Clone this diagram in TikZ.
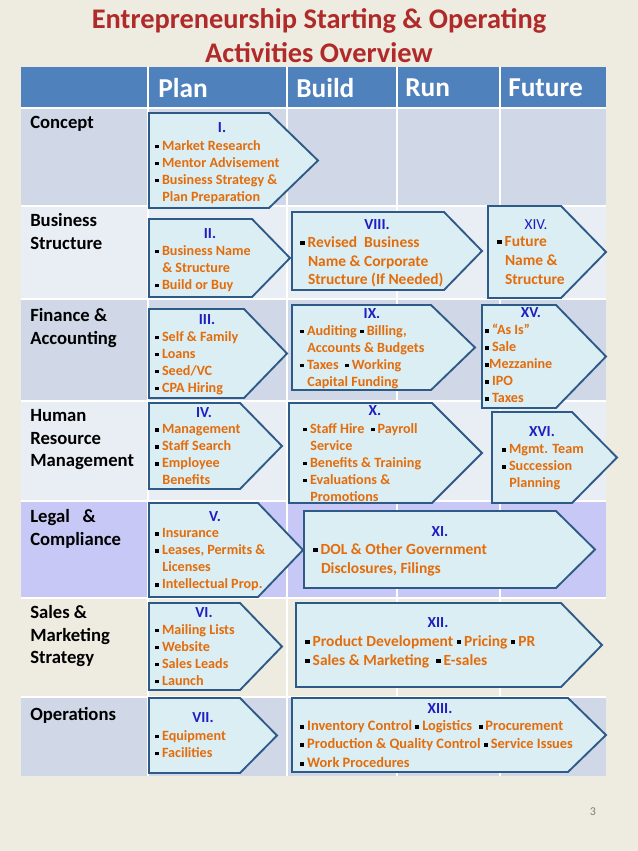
\documentclass[tikz,border=0pt]{standalone}
\usepackage{fontspec}
\setmainfont{Carlito}
\definecolor{bg}{HTML}{EEEBE0}
\definecolor{hdr}{HTML}{4F81BD}
\definecolor{rowA}{HTML}{D0D8E8}
\definecolor{rowB}{HTML}{E9EDF4}
\definecolor{rowL}{HTML}{C8C8F6}
\definecolor{boxf}{HTML}{DAEEF3}
\definecolor{boxd}{HTML}{2E5A87}
\definecolor{org}{HTML}{E46C0A}
\definecolor{numc}{HTML}{1F1FC0}
\definecolor{ttl}{HTML}{B02A2A}
\newcommand{\bul}{{\color{black}\rule[0.25ex]{0.28em}{0.28em}}\hspace{0.2em}}
\newcommand{\ind}{\hspace*{0.5em}}
\newcommand{\pent}[5]{\draw[boxline] (#1,#2) -- (#3,#2) -- (#4,{(#2+#5)/2}) -- (#3,#5) -- (#1,#5) -- cycle;}
\tikzset{
 boxline/.style={draw=boxd,fill=boxf,line width=1.4pt,line join=miter},
 tb/.style={anchor=north west,inner sep=0pt,align=left,text=org,font=\bfseries\fontsize{10.6}{12.75}\selectfont},
 tbw/.style={tb,font=\bfseries\fontsize{10.8}{13.5}\selectfont},
 tbx/.style={tb,font=\bfseries\fontsize{11.6}{14.2}\selectfont},
 num/.style={inner sep=0pt,text=numc,font=\bfseries\fontsize{11.5}{12}\selectfont},
 numr/.style={inner sep=0pt,text=numc,font=\fontsize{11.5}{12}\selectfont},
 rl/.style={anchor=north west,inner sep=0pt,align=left,font=\bfseries\fontsize{14}{17}\selectfont},
 hd/.style={anchor=west,inner sep=0pt,text=white,font=\bfseries\fontsize{20.5}{22}\selectfont},
 grid/.style={draw=white,line width=1.5pt}
}
\begin{document}
\begin{tikzpicture}[x=0.75pt,y=-0.75pt]
\useasboundingbox (0,0) rectangle (638,851);
\fill[bg] (0,0) rectangle (638,851);
% title
\node[text=ttl,font=\bfseries\fontsize{21.3}{24}\selectfont] (t1) at (319,21) {Entrepreneurship Starting \& Operating};
\node[text=ttl,font=\bfseries\fontsize{21.3}{24}\selectfont] (t2) at (319,53) {Activities Overview};
% rows
\fill[hdr] (21,67) rectangle (606,108);
\fill[rowA] (21,108) rectangle (606,206);
\fill[rowB] (21,206) rectangle (606,299);
\fill[rowA] (21,299) rectangle (606,401);
\fill[rowB] (21,401) rectangle (606,501);
\fill[rowL] (21,501) rectangle (606,598);
\fill[bg] (21,598) rectangle (606,697);
\fill[rowA] (21,697) rectangle (606,776);
\foreach \y in {108,206,299,401,501,598,697} \draw[grid] (21,\y) -- (606,\y);
\foreach \x in {148,287,397,500} \draw[grid] (\x,67) -- (\x,776);
% headers
\node[hd] (hp) at (158,88) {Plan};
\node[hd] (hb) at (296,88) {Build};
\node[hd] (hr) at (405,88) {Run};
\node[hd] (hf) at (508,88) {Future};
% row labels
\node[rl] (r1) at (30,116) {Concept};
\node[rl] (r2) at (30,213) {Business\\Structure};
\node[rl] (r3) at (30,308) {Finance \&\\Accounting};
\node[rl] (r4) at (30,409) {Human\\Resource\\Management};
\node[rl] (r5) at (30,509) {Legal~~ \&\\Compliance};
\node[rl] (r6) at (30,605) {Sales \&\\Marketing\\Strategy};
\node[rl] (r7) at (30,707) {Operations};
% boxes
\pent{149}{113}{269}{318}{208}
\pent{149}{219}{252}{290}{297}
\pent{292}{212}{444}{482}{290}
\pent{488}{206}{561}{606}{298}
\pent{149}{309}{244}{287}{398}
\pent{292}{305}{431}{475}{390}
\pent{482}{305}{556}{606}{408}
\pent{149}{403}{240}{282}{489}
\pent{289}{403}{432}{482}{503}
\pent{492}{412}{572}{617}{503}
\pent{149}{503}{258}{303}{597}
\pent{304}{511}{556}{595}{588}
\pent{149}{603}{240}{282}{690}
\pent{296}{603}{561}{602}{687}
\pent{149}{698}{240}{277}{773}
\pent{292}{698}{568}{606}{772}
% numerals
\node[num] (n1) at (222,128) {I.};
\node[num] (n2) at (210,234) {II.};
\node[num] (n8) at (377,225) {VIII.};
\node[numr] (n14) at (536,225) {XIV.};
\node[num] (n3) at (207,320) {III.};
\node[num] (n9) at (372,314) {IX.};
\node[num] (n15) at (531,313) {XV.};
\node[num] (n4) at (204,413) {IV.};
\node[num] (n10) at (375,411) {X.};
\node[num] (n16) at (542,432) {XVI.};
\node[num] (n5) at (215,517) {V.};
\node[num] (n11) at (440,532) {XI.};
\node[num] (n6) at (204,613) {VI.};
\node[num] (n12) at (438,623) {XII.};
\node[num] (n7) at (203,718) {VII.};
\node[num] (n13) at (440,709) {XIII.};
% texts
\node[tb] (b1) at (155,140) {\bul Market Research\\\bul Mentor Advisement\\\bul Business Strategy \&\\\ind Plan Preparation};
\node[tb] (b2) at (155,245) {\bul Business Name\\\ind \& Structure\\\bul Build or Buy};
\node[tbx] (b8) at (300,236) {\bul Revised~ Business\\\ind Name \& Corporate\\\ind Structure (If Needed)};
\node[tbx] (b14) at (497,236) {\bul Future\\\ind Name \&\\\ind Structure};
\node[tb] (b3) at (155,331) {\bul Self \& Family\\\bul Loans\\\bul Seed/VC\\\bul CPA Hiring};
\node[tb] (b9) at (300,325) {\bul Auditing \bul Billing,\\\ind Accounts \& Budgets\\\bul Taxes ~\bul Working\\\ind Capital Funding};
\node[tb] (b15) at (485,324) {\bul ``As Is''\\\bul Sale\\{\color{black}\rule[0.25ex]{0.28em}{0.28em}}Mezzanine\\\bul IPO\\\bul Taxes};
\node[tb] (b4) at (155,424) {\bul Management\\\bul Staff Search\\\bul Employee\\\ind Benefits};
\node[tb] (b10) at (303,423) {\bul Staff Hire ~\bul Payroll\\\ind Service\\\bul Benefits \& Training\\\bul Evaluations \&\\\ind Promotions};
\node[tb] (b16) at (502,444) {\bul Mgmt. Team\\\bul Succession\\\ind Planning};
\node[tb] (b5) at (155,528) {\bul Insurance\\\bul Leases, Permits \&\\\ind Licenses\\\bul Intellectual Prop.};
\node[tbx] (b11) at (313,543) {\bul DOL \& Other Government\\\ind Disclosures, Filings};
\node[tb] (b6) at (155,624) {\bul Mailing Lists\\\bul Website\\\bul Sales Leads\\\bul Launch};
\node[tbx] (b12) at (305,635) {\bul Product Development \bul Pricing \bul PR\\\bul Sales \& Marketing ~\bul E-sales};
\node[tb] (b7) at (155,730) {\bul Equipment\\\bul Facilities};
\node[tbw] (b13) at (300,720) {\bul Inventory Control \bul Logistics ~\bul Procurement\\\bul Production \& Quality Control \bul Service Issues\\[1pt]\bul Work Procedures};
% page number
\node[text=gray,font=\fontsize{9}{10}\selectfont] (pg) at (593,812) {3};
\end{tikzpicture}
\end{document}
